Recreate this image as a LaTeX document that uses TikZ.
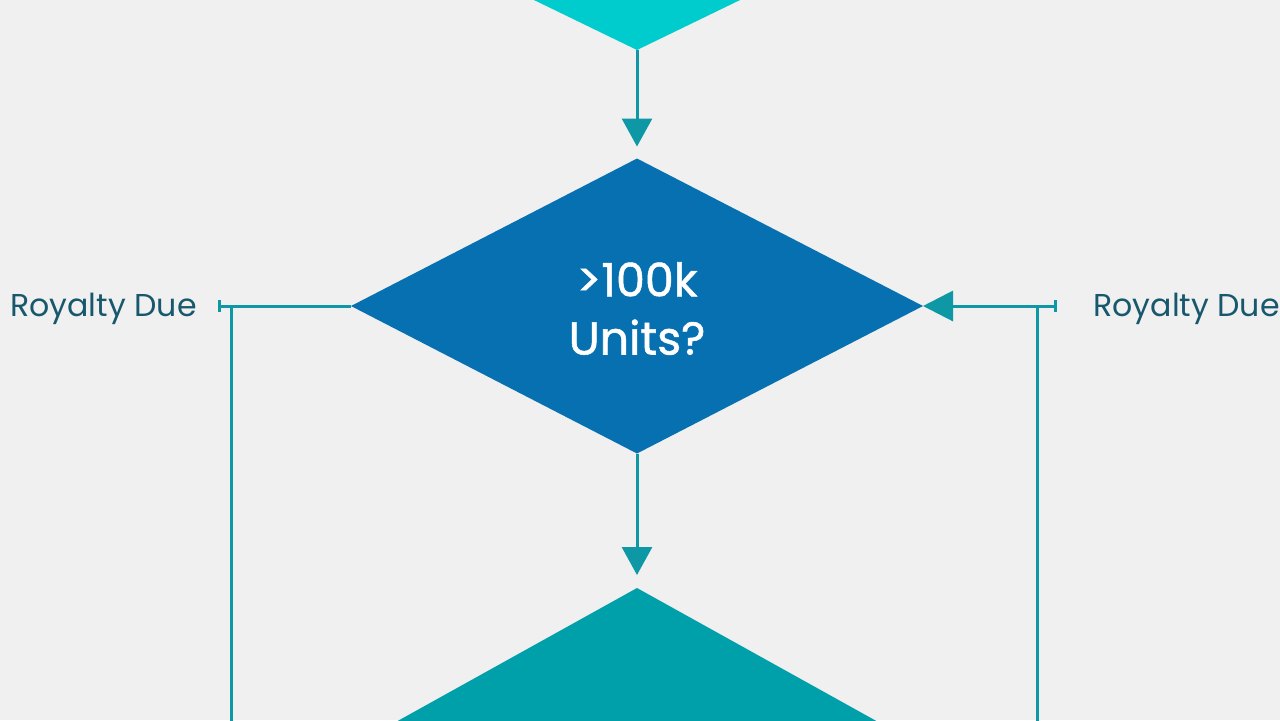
\documentclass[tikz,border=0pt]{standalone}
\usepackage{fontspec}
\setmainfont{Poppins}
\newfontfamily\diafont[FakeBold=1.2]{Poppins}
\usetikzlibrary{shapes.geometric,arrows.meta}
\definecolor{bgc}{RGB}{240,240,240}
\definecolor{topc}{RGB}{0,204,206}
\definecolor{midc}{RGB}{6,112,176}
\definecolor{botc}{RGB}{0,160,170}
\definecolor{linec}{RGB}{14,152,166}
\definecolor{txtc}{RGB}{24,88,108}
\tikzset{
  dia/.style={diamond, draw=none, inner sep=0pt, outer sep=0pt, aspect=2},
  conn/.style={draw=linec, line width=1.5pt},
  tri/.style={-{Triangle[width=15pt,length=14pt]}},
  lab/.style={text=txtc, font=\fontsize{15.8}{18}\selectfont, inner sep=0pt}
}
\begin{document}
\begin{tikzpicture}[x=0.5pt,y=-0.5pt]
\fill[bgc] (0,0) rectangle (1280,720);
\useasboundingbox (0,0) rectangle (1280,720);
\clip (0,0) rectangle (1280,720);
\node[dia, fill=topc, minimum width=303pt, minimum height=147pt] (top) at (637,-97) {};
\node[dia, fill=midc, minimum width=286pt, minimum height=147.5pt, text=white,
  font=\diafont\fontsize{23}{28.5}\selectfont] (q) at (637,306)
  {\raisebox{-4pt}[\height][\depth]{\begin{tabular}{@{}c@{}}>100k\\[0.6pt]Units?\end{tabular}}};
\node[dia, fill=botc, minimum width=270pt, minimum height=150pt] (bot) at (637,738) {};
\draw[conn, tri, shorten >=6pt] (top.south) -- (q.north);
\draw[conn, tri, shorten >=6.5pt] (q.south) -- (bot.north);
\coordinate (lbar) at (218,306);
\coordinate (ltee) at (231,306);
\coordinate (lbot) at (231,722);
\coordinate (rbar) at (1057,306);
\coordinate (rtee) at (1037,306);
\coordinate (rbot) at (1037,722);
\draw[conn, {Bar[width=6pt]}-] (lbar) -- (q.west);
\draw[conn] (ltee) -- (lbot);
\draw[conn, {Bar[width=6pt]}-{Triangle[width=15pt,length=15pt]}] (rbar) -- (q.east);
\draw[conn] (rtee) -- (rbot);
\node[lab, anchor=east] (ll) at (197,309) {Royalty Due};
\node[lab, anchor=west] (rl) at (1093,309) {Royalty Due};
\end{tikzpicture}
\end{document}
